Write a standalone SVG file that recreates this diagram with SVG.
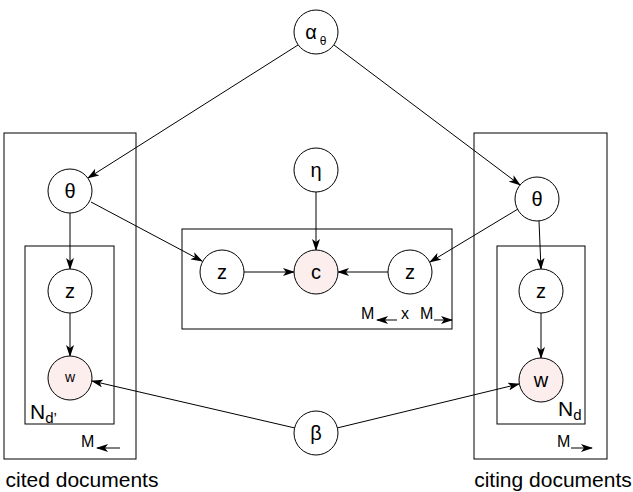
<svg xmlns="http://www.w3.org/2000/svg" width="633" height="492" viewBox="0 0 633 492">
<defs>
<marker id="a" markerWidth="12" markerHeight="8" refX="11" refY="4" orient="auto" markerUnits="userSpaceOnUse"><path d="M0,0 L12,4 L0,8 L3,4 z" fill="#000"/></marker>
<style>
.n{fill:#fff;stroke:#000;stroke-width:1}
.o{fill:#fdeeee;stroke:#000;stroke-width:1}
.p{fill:none;stroke:#000;stroke-width:1}
.e{stroke:#000;stroke-width:1;fill:none;marker-end:url(#a)}
text{font-family:"Liberation Sans",Arial,sans-serif;font-size:20px;text-anchor:middle;fill:#000}
.l{text-anchor:start}
</style>
</defs>
<g id="plates">
<rect class="p" x="4" y="133" width="132" height="326"/>
<rect class="p" x="25" y="246" width="89" height="178"/>
<rect class="p" x="182" y="229" width="270" height="100"/>
<rect class="p" x="474" y="133" width="133" height="326"/>
<rect class="p" x="497" y="246" width="88" height="178"/>
</g>
<g id="connectors">
<line class="e" x1="298" y1="45" x2="88" y2="178"/>
<line class="e" x1="334" y1="45" x2="520" y2="185"/>
<line class="e" x1="91" y1="202" x2="202" y2="261"/>
<line class="e" x1="518" y1="209" x2="430" y2="262"/>
<line class="e" x1="316" y1="192" x2="316" y2="250"/>
<line class="e" x1="244" y1="272" x2="294" y2="272"/>
<line class="e" x1="388" y1="272" x2="338" y2="272"/>
<line class="e" x1="70" y1="213" x2="70" y2="269"/>
<line class="e" x1="70" y1="313" x2="70" y2="356"/>
<line class="e" x1="539" y1="221" x2="541" y2="269"/>
<line class="e" x1="541" y1="313" x2="541" y2="358"/>
<line class="e" x1="295" y1="428" x2="92" y2="381"/>
<line class="e" x1="337" y1="428" x2="519" y2="384"/>
<line class="e" x1="397" y1="320" x2="377" y2="320"/>
<line class="e" x1="434" y1="320" x2="452" y2="320"/>
<line class="e" x1="120" y1="448" x2="97" y2="448"/>
<line class="e" x1="571" y1="448" x2="592" y2="448"/>
</g>
<g id="alpha"><circle class="n" cx="316" cy="32" r="22"/><text x="311" y="39">α</text><text x="323" y="45" style="font-size:12px">θ</text></g>
<g id="thetaL"><circle class="n" cx="70" cy="191" r="22"/><text x="70" y="198">θ</text></g>
<g id="zL"><circle class="n" cx="70" cy="291" r="22"/><text x="70" y="298">z</text></g>
<g id="wL"><circle class="o" cx="70" cy="378" r="22"/><text x="70" y="382" style="font-size:14px">w</text></g>
<g id="eta"><circle class="n" cx="316" cy="170" r="22"/><text x="316" y="177">η</text></g>
<g id="zC1"><circle class="n" cx="222" cy="272" r="22"/><text x="222" y="279">z</text></g>
<g id="c"><circle class="o" cx="316" cy="272" r="22"/><text x="316" y="279">c</text></g>
<g id="zC2"><circle class="n" cx="410" cy="272" r="22"/><text x="410" y="279">z</text></g>
<g id="thetaR"><circle class="n" cx="537" cy="199" r="22"/><text x="537" y="206">θ</text></g>
<g id="zR"><circle class="n" cx="541" cy="291" r="22"/><text x="541" y="298">z</text></g>
<g id="wR"><circle class="o" cx="541" cy="380" r="22"/><text x="541" y="387">w</text></g>
<g id="beta"><circle class="n" cx="316" cy="433" r="22"/><text x="316" y="440">β</text></g>
<g id="labels">
<text class="l" x="30" y="419" style="font-size:21px">N<tspan dy="4" style="font-size:15px">d’</tspan></text>
<text class="l" x="558" y="416" style="font-size:21px">N<tspan dy="4" style="font-size:15px">d</tspan></text>
<text class="l" x="81" y="447" style="font-size:16px">M</text>
<text class="l" x="557" y="447" style="font-size:16px">M</text>
<text class="l" x="361" y="319" style="font-size:16px">M</text>
<text class="l" x="401" y="319" style="font-size:16px">x</text>
<text class="l" x="420" y="319" style="font-size:16px">M</text>
<text x="82" y="487" style="font-size:21px">cited documents</text>
<text x="553" y="487" style="font-size:21px">citing documents</text>
</g>
</svg>
